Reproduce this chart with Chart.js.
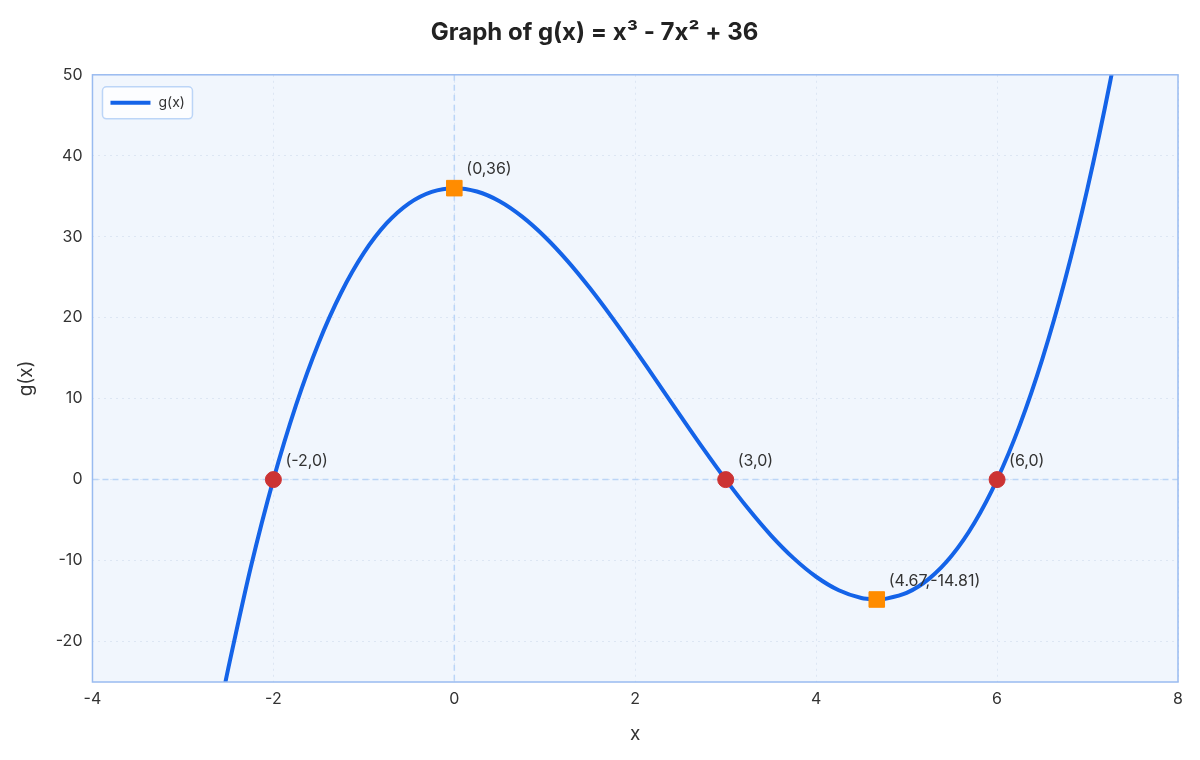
<!DOCTYPE html>
<html><head><meta charset="utf-8">
<script src="https://cdn.jsdelivr.net/npm/chart.js@4.4.0/dist/chart.umd.min.js"></script>
<style>html,body{margin:0;background:#fff}#w{width:1200px;height:760px}</style>
</head><body><div id="w"><canvas id="c"></canvas></div>
<script>
const xs=[-2.6,-2.5,-2.25,-2,-1.75,-1.5,-1.25,-1,-0.75,-0.5,-0.25,0,0.25,0.5,0.75,1,1.25,1.5,1.75,2,2.25,2.5,2.75,3,3.25,3.5,3.75,4,4.25,4.5,4.67,4.75,5,5.25,5.5,5.75,6,6.25,6.5,6.75,7,7.25,7.5];
const ys=[-28.9,-23.38,-10.83,0,9.2,16.88,23.11,28,31.64,34.13,35.55,36,35.58,34.38,32.48,30,27.02,23.63,19.92,16,11.95,7.88,3.86,0,-3.61,-6.88,-9.7,-12,-13.67,-14.63,-14.81,-14.77,-14,-12.23,-9.38,-5.33,0,6.7,14.88,24.61,36,49.14,64.1];
const rootsX=[-2,3,6], rootsY=[0,0,0];
const extX=[0,4.67], extY=[36,-14.81];
const labels=[{x:-2,y:0,t:'(-2,0)'},{x:3,y:0,t:'(3,0)'},{x:6,y:0,t:'(6,0)'},{x:0,y:36,t:'(0,36)'},{x:4.67,y:-14.81,t:'(4.67,-14.81)'}];
const xTicks=[-4,-2,0,2,4,6,8], yTicks=[-20,-10,0,10,20,30,40,50];
const F='Inter, "Open Sans", sans-serif';
const deco={id:'deco',
beforeDraw(ch){const {ctx,chartArea:a}=ch;ctx.save();ctx.fillStyle='#f1f6fd';ctx.fillRect(a.left,a.top,a.width,a.height);ctx.restore();},
beforeDatasetsDraw(ch){const {ctx,chartArea:a,scales:{x,y}}=ch;ctx.save();ctx.strokeStyle='#bcd5f7';ctx.lineWidth=1.5;ctx.setLineDash([6,4]);
ctx.beginPath();ctx.moveTo(a.left,y.getPixelForValue(0));ctx.lineTo(a.right,y.getPixelForValue(0));ctx.moveTo(x.getPixelForValue(0),a.top);ctx.lineTo(x.getPixelForValue(0),a.bottom);ctx.stroke();ctx.restore();},
afterDraw(ch){const {ctx,chartArea:a,scales:{x,y}}=ch;ctx.save();
ctx.strokeStyle='#99bbf0';ctx.lineWidth=1.5;ctx.strokeRect(a.left,a.top,a.width,a.height);
ctx.fillStyle='#333';ctx.font='16px '+F;ctx.textBaseline='alphabetic';
labels.forEach(l=>ctx.fillText(l.t,x.getPixelForValue(l.x)+12,y.getPixelForValue(l.y)-14));
const lx=a.left+10,ly=a.top+12;ctx.fillStyle='rgba(255,255,255,0.8)';ctx.strokeStyle='#bcd5f7';ctx.lineWidth=1.5;
ctx.beginPath();ctx.roundRect(lx,ly,90,32,4);ctx.fill();ctx.stroke();
ctx.strokeStyle='#1463e8';ctx.lineWidth=4;ctx.beginPath();ctx.moveTo(lx+8,ly+16);ctx.lineTo(lx+48,ly+16);ctx.stroke();
ctx.fillStyle='#333';ctx.font='14px '+F;ctx.textBaseline='middle';ctx.fillText('g(x)',lx+56,ly+16);
ctx.restore();}};
new Chart(document.getElementById('c'),{type:'scatter',
data:{datasets:[
{label:'g(x)',data:xs.map((v,i)=>({x:v,y:ys[i]})),showLine:true,borderColor:'#1463e8',borderWidth:4,pointRadius:0,tension:0.3,order:3},
{label:'roots',data:rootsX.map((v,i)=>({x:v,y:rootsY[i]})),pointStyle:'circle',pointRadius:8,backgroundColor:'#cc3333',borderColor:'#cc3333',order:1},
{label:'ext',data:extX.map((v,i)=>({x:v,y:extY[i]})),pointStyle:'rect',pointRadius:11,backgroundColor:'#ff8c00',borderColor:'#ff8c00',order:2}]},
options:{responsive:true,maintainAspectRatio:false,animation:false,clip:true,
layout:{padding:{left:11,right:22,top:0,bottom:10}},
plugins:{legend:{display:false},tooltip:{enabled:false},
title:{display:true,text:'Graph of g(x) = x³ - 7x² + 36',color:'#222',font:{family:F,size:24,weight:'bold'},padding:{top:18,bottom:28}}},
scales:{
x:{min:-4,max:8,afterBuildTicks:s=>{s.ticks=xTicks.map(v=>({value:v}))},grid:{color:'#dde6f3',drawTicks:false},border:{display:false,dash:[2,4]},
ticks:{color:'#333',font:{family:F,size:16},padding:8},title:{display:true,text:'x',color:'#333',font:{family:F,size:19},padding:{top:6}}},
y:{min:-25,max:50,afterBuildTicks:s=>{s.ticks=yTicks.map(v=>({value:v}))},grid:{color:'#dde6f3',drawTicks:false},border:{display:false,dash:[2,4]},
ticks:{color:'#333',font:{family:F,size:16},padding:10},title:{display:true,text:'g(x)',color:'#333',font:{family:F,size:19},padding:{bottom:8}}}}},
plugins:[deco]});
</script></body></html>
